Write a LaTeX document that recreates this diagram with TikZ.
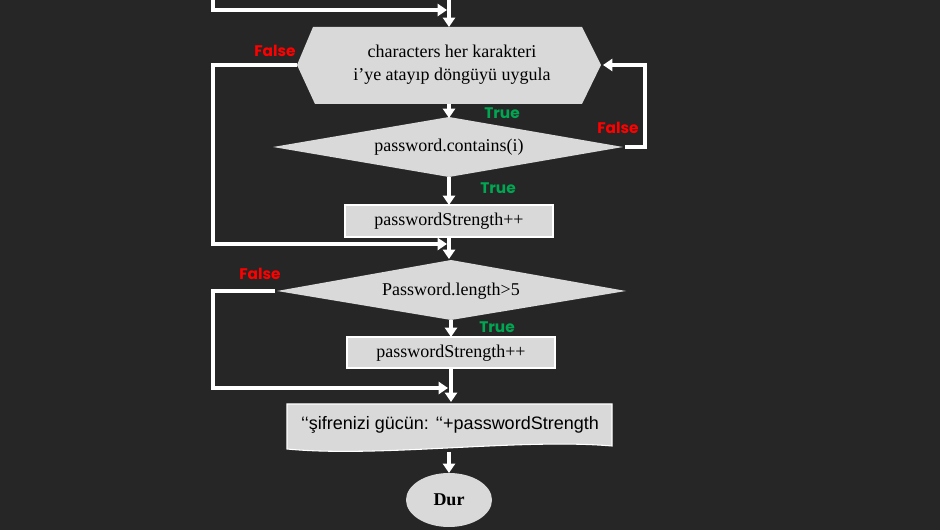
\documentclass[tikz,border=0pt]{standalone}
\usepackage{fontspec}
\setmainfont{Liberation Serif}
\newfontfamily\lblfont{Poppins}
\newfontfamily\sansf{Liberation Sans}
\usetikzlibrary{arrows.meta}
\definecolor{bg}{HTML}{262626}
\definecolor{boxfill}{HTML}{D9D9D9}
\definecolor{tgreen}{HTML}{00A651}
\definecolor{fred}{HTML}{FF0000}
\begin{document}
\begin{tikzpicture}[x=0.75pt,y=-0.75pt,
  shp/.style={fill=boxfill,draw=white,line width=0.8pt},
  shpd/.style={fill=boxfill,draw=none},
  conn/.style={draw=white,line width=2.4pt,-{Triangle[width=9pt,length=7pt]}},
  txt/.style={font=\fontsize{13.5}{17}\selectfont,text=black,align=center},
  tlbl/.style={font=\lblfont\bfseries\fontsize{11.5}{12}\selectfont,text=tgreen},
  flbl/.style={font=\lblfont\bfseries\fontsize{11.5}{12}\selectfont,text=fred}]
\fill[bg] (0,0) rectangle (940,530);
\useasboundingbox (0,0) rectangle (940,530);
% shapes
\path[shpd] (313,27) -- (582,27) -- (601,65) -- (582,104) -- (315,104) -- (297,65) -- cycle;
\path[shpd] (273,147) -- (449,117) -- (623,147) -- (449,177) -- cycle;
\path[shp] (345,205) rectangle (553,237);
\path[shpd] (277,291) -- (451,260) -- (626,291) -- (451,320) -- cycle;
\path[shp] (347,337) rectangle (555,368);
\path[shp] (287,404) -- (612,404) -- (612,446) .. controls (520,438) and (380,458) .. (287,449) -- cycle;
\path[fill=boxfill] (449,500) ellipse [x radius=43, y radius=27];
% text nodes
\node[txt] (hex) at (452,65) {characters her karakteri\\i’ye atayıp döngüyü uygula};
\node[txt] (d1) at (449,147) {password.contains(i)};
\node[txt] (r1) at (449,221) {passwordStrength++};
\node[txt] (d2) at (451,291) {Password.length>5};
\node[txt] (r2) at (451,353) {passwordStrength++};
\node[txt,font=\sansf\fontsize{13.5}{17}\selectfont] (doc) at (450,425) {‘‘şifrenizi gücün: ‘‘+passwordStrength};
\node[txt,font=\bfseries\fontsize{13.5}{17}\selectfont] (dur) at (449,500) {Dur};
% labels
\node[flbl] (f1) at (275,51) {False};
\node[tlbl] (t1) at (502,113) {True};
\node[flbl] (f2) at (618,128) {False};
\node[tlbl] (t2) at (498,188) {True};
\node[flbl] (f3) at (260,274) {False};
\node[tlbl] (t3) at (497,327) {True};
% coordinates
\coordinate (top0) at (449,0);
\coordinate (hexT) at (449,27);
\coordinate (hexB) at (449,104);
\coordinate (hexL) at (297,65);
\coordinate (hexR) at (603,65);
\coordinate (d1T) at (449,118);
\coordinate (d1B) at (449,177);
\coordinate (d1R) at (625,147);
\coordinate (r1T) at (449,205);
\coordinate (r1B) at (449,237);
\coordinate (d2T) at (449,259);
\coordinate (d2L) at (275,291);
\coordinate (d2B) at (451,320);
\coordinate (r2T) at (451,337);
\coordinate (r2B) at (451,368);
\coordinate (docT) at (451,402);
\coordinate (docB) at (449,452);
\coordinate (durT) at (449,473);
\coordinate (m1) at (447,244);
\coordinate (m2) at (448,388);
\coordinate (m0) at (447,10);
% connectors
\draw[conn] (213,0) -- (213,10) -- (m0);
\draw[conn] (top0) -- (hexT);
\draw[conn] (hexB) -- (d1T);
\draw[conn] (d1R) -- (645,147) -- (645,65) -- (hexR);
\draw[conn] (d1B) -- (r1T);
\draw[conn] (hexL) -- (213,65) -- (213,244) -- (m1);
\draw[conn] (r1B) -- (d2T);
\draw[conn] (d2L) -- (213,291) -- (213,388) -- (m2);
\draw[conn] (d2B) -- (r2T);
\draw[conn] (r2B) -- (docT);
\draw[conn] (docB) -- (durT);
\end{tikzpicture}
\end{document}
